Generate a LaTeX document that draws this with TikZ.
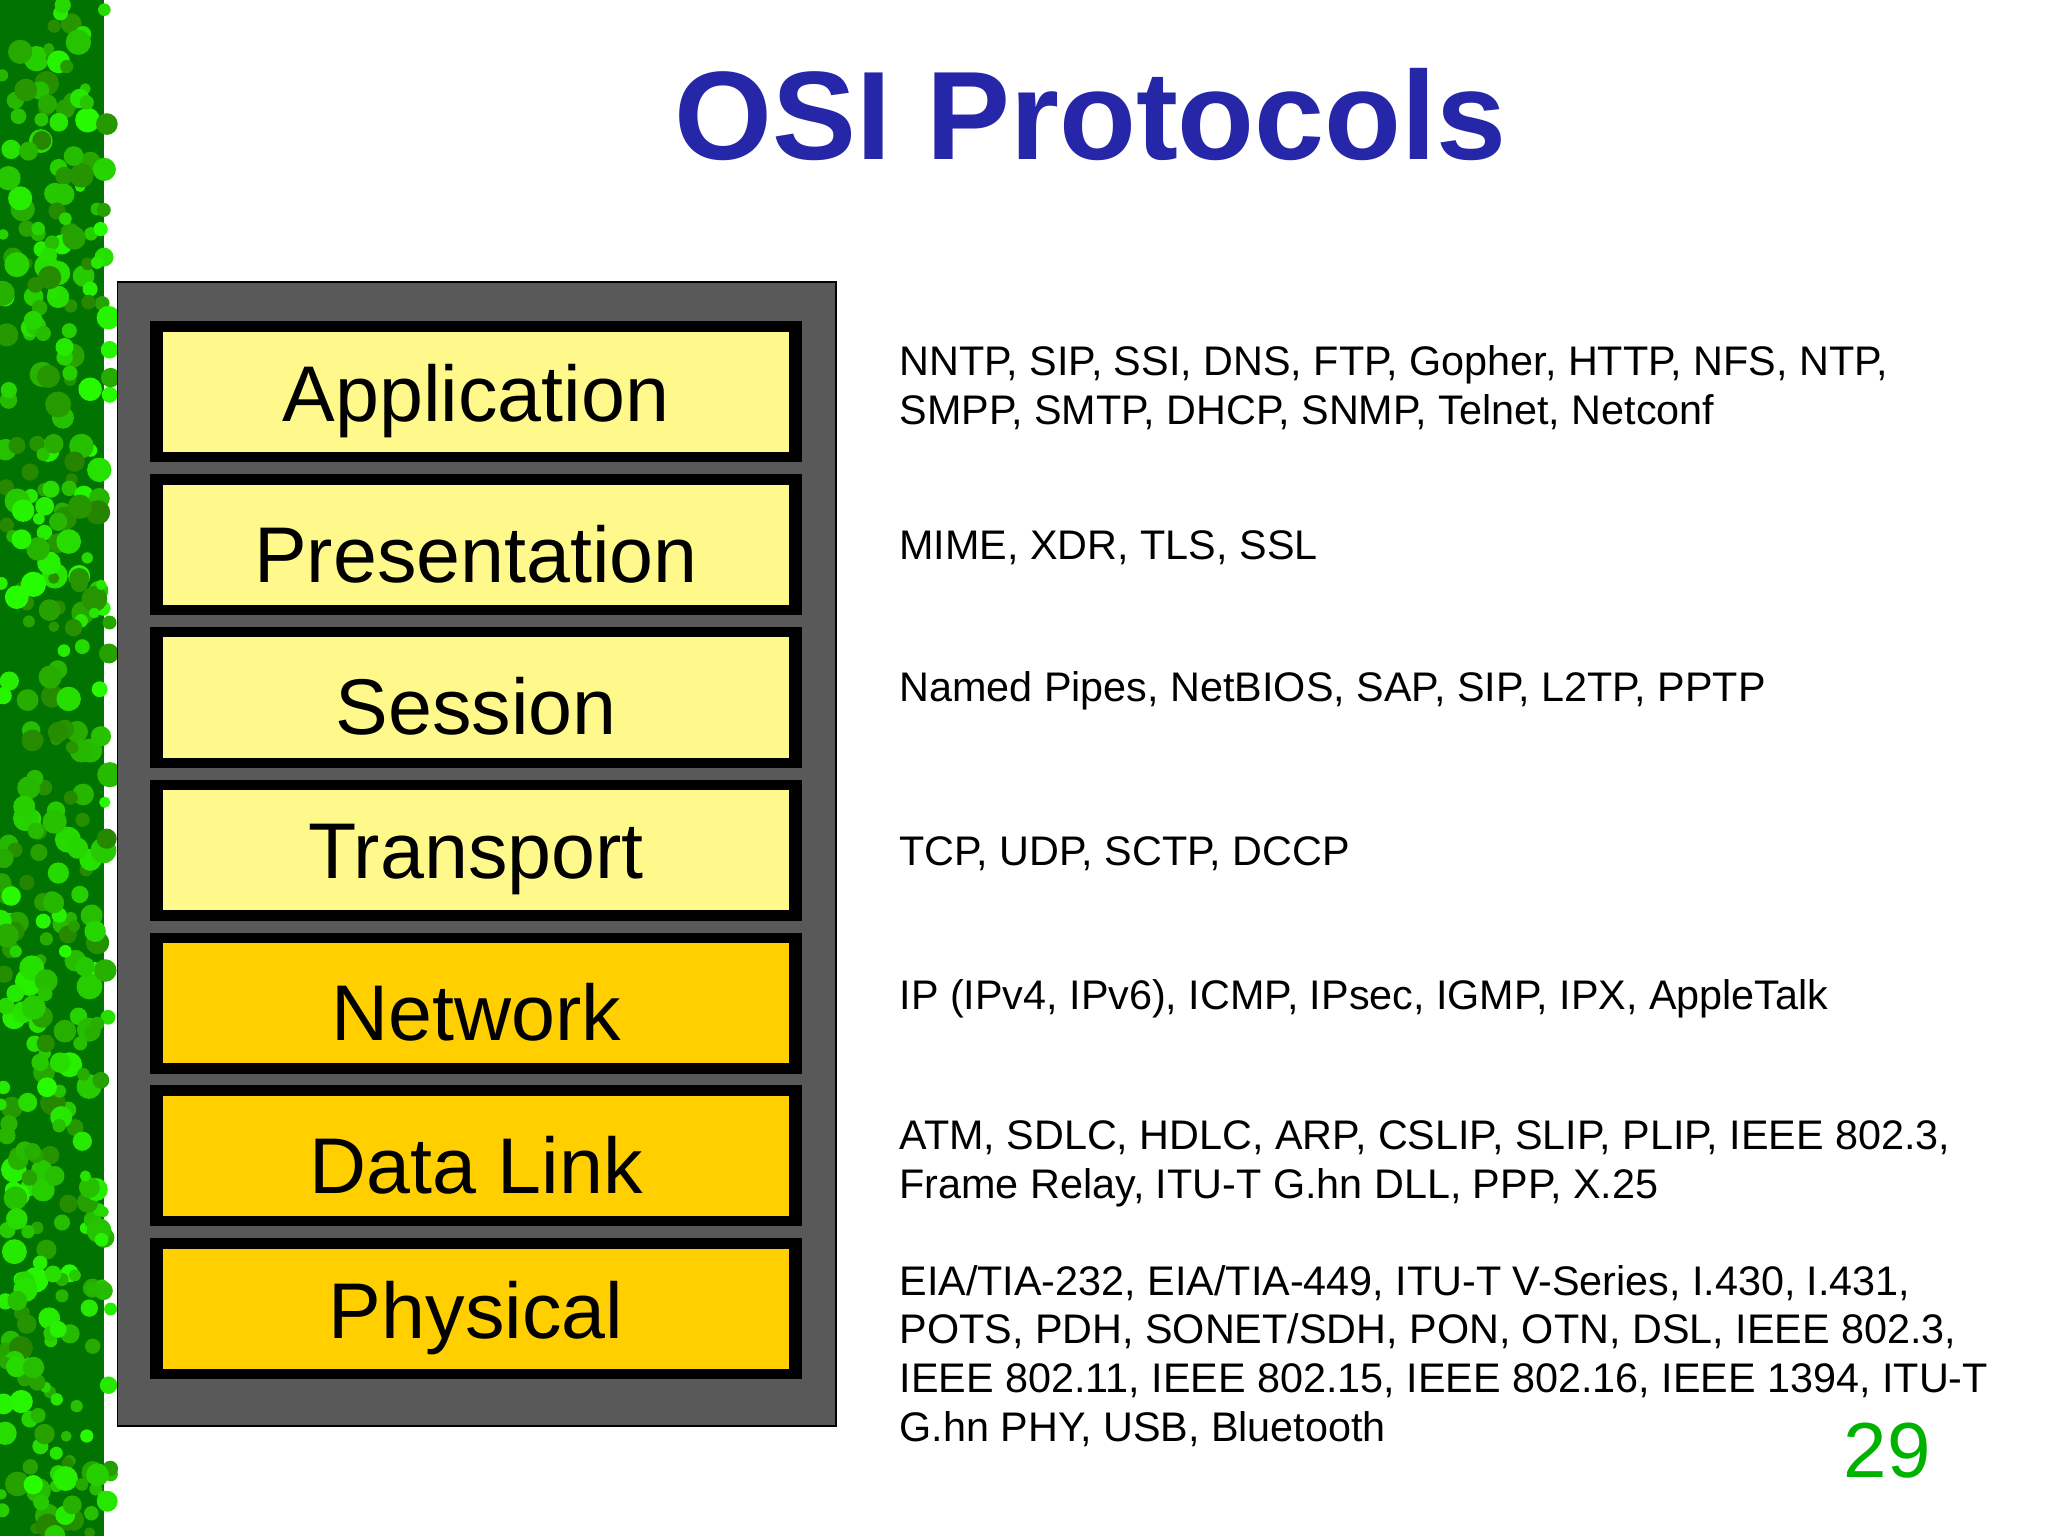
\documentclass[tikz,border=0pt]{standalone}
\usepackage{fontspec}
\setmainfont{Liberation Sans}
\begin{document}
\begin{tikzpicture}[x=0.01cm,y=-0.01cm,
  outer/.style={fill=black,draw=none},
  lay/.style={inner sep=0pt,font=\fontsize{17.2}{20}\selectfont},
  prot/.style={anchor=west,align=left,font=\fontsize{9}{10.6}\selectfont,inner sep=0pt}]
\useasboundingbox (0,0) rectangle (1568,1176);
\fill[white] (0,0) rectangle (1568,1176);
% leafy border
\fill[green!45!black] (0,0) rectangle (80,1176);
\pgfmathsetseed{7}
\foreach \i in {1,...,420}{
  \pgfmathsetmacro{\xx}{rnd*85}
  \pgfmathsetmacro{\yy}{rnd*1176}
  \pgfmathsetmacro{\rr}{4+rnd*6}
  \pgfmathsetmacro{\cc}{int(40+rnd*60)}
  \fill[green!\cc!black!80!lime] (\xx,\yy) circle[radius=\rr];
}
% title
\node[font=\fontsize{27.4}{30}\selectfont\bfseries,text=blue!60!black!85!white] (title) at (835,88) {OSI Protocols};
% gray frame
\fill[fill=black!65,draw=black] (90,216) rectangle (640,1092);
\foreach \n/\t/\c [count=\k from 0] in {app/Application/yellow!45,pre/Presentation/yellow!45,ses/Session/yellow!45,tra/Transport/yellow!45,net/Network/orange!20!yellow!90!red,dl/Data Link/orange!20!yellow!90!red,phy/Physical/orange!20!yellow!90!red}{
  \pgfmathsetmacro{\yc}{300+117*\k}
  \fill[outer] (115,\yc-54) rectangle (614,\yc+54);
  \fill[\c] (125,\yc-46) rectangle (604,\yc+46);
  \node[lay] (\n) at (364.5,\yc+7) {\t};
}
\node[prot] (papp) at (688,297) {NNTP, SIP, SSI, DNS, FTP, Gopher, HTTP, NFS, NTP,\\SMPP, SMTP, DHCP, SNMP, Telnet, Netconf};
\node[prot] (ppre) at (688,419) {MIME, XDR, TLS, SSL};
\node[prot] (pses) at (688,529) {Named Pipes, NetBIOS, SAP, SIP, L2TP, PPTP};
\node[prot] (ptra) at (688,654) {TCP, UDP, SCTP, DCCP};
\node[prot] (pnet) at (688,765) {IP (IPv4, IPv6), ICMP, IPsec, IGMP, IPX, AppleTalk};
\node[prot] (pdl) at (688,891) {ATM, SDLC, HDLC, ARP, CSLIP, SLIP, PLIP, IEEE 802.3,\\Frame Relay, ITU-T G.hn DLL, PPP, X.25};
\node[prot] (pphy) at (688,1038) {EIA/TIA-232, EIA/TIA-449, ITU-T V-Series, I.430, I.431,\\POTS, PDH, SONET/SDH, PON, OTN, DSL, IEEE 802.3,\\IEEE 802.11, IEEE 802.15, IEEE 802.16, IEEE 1394, ITU-T\\G.hn PHY, USB, Bluetooth};
\node[font=\fontsize{17}{20}\selectfont,text=green!70!black] (pg) at (1445,1111) {29};
\end{tikzpicture}
\end{document}
